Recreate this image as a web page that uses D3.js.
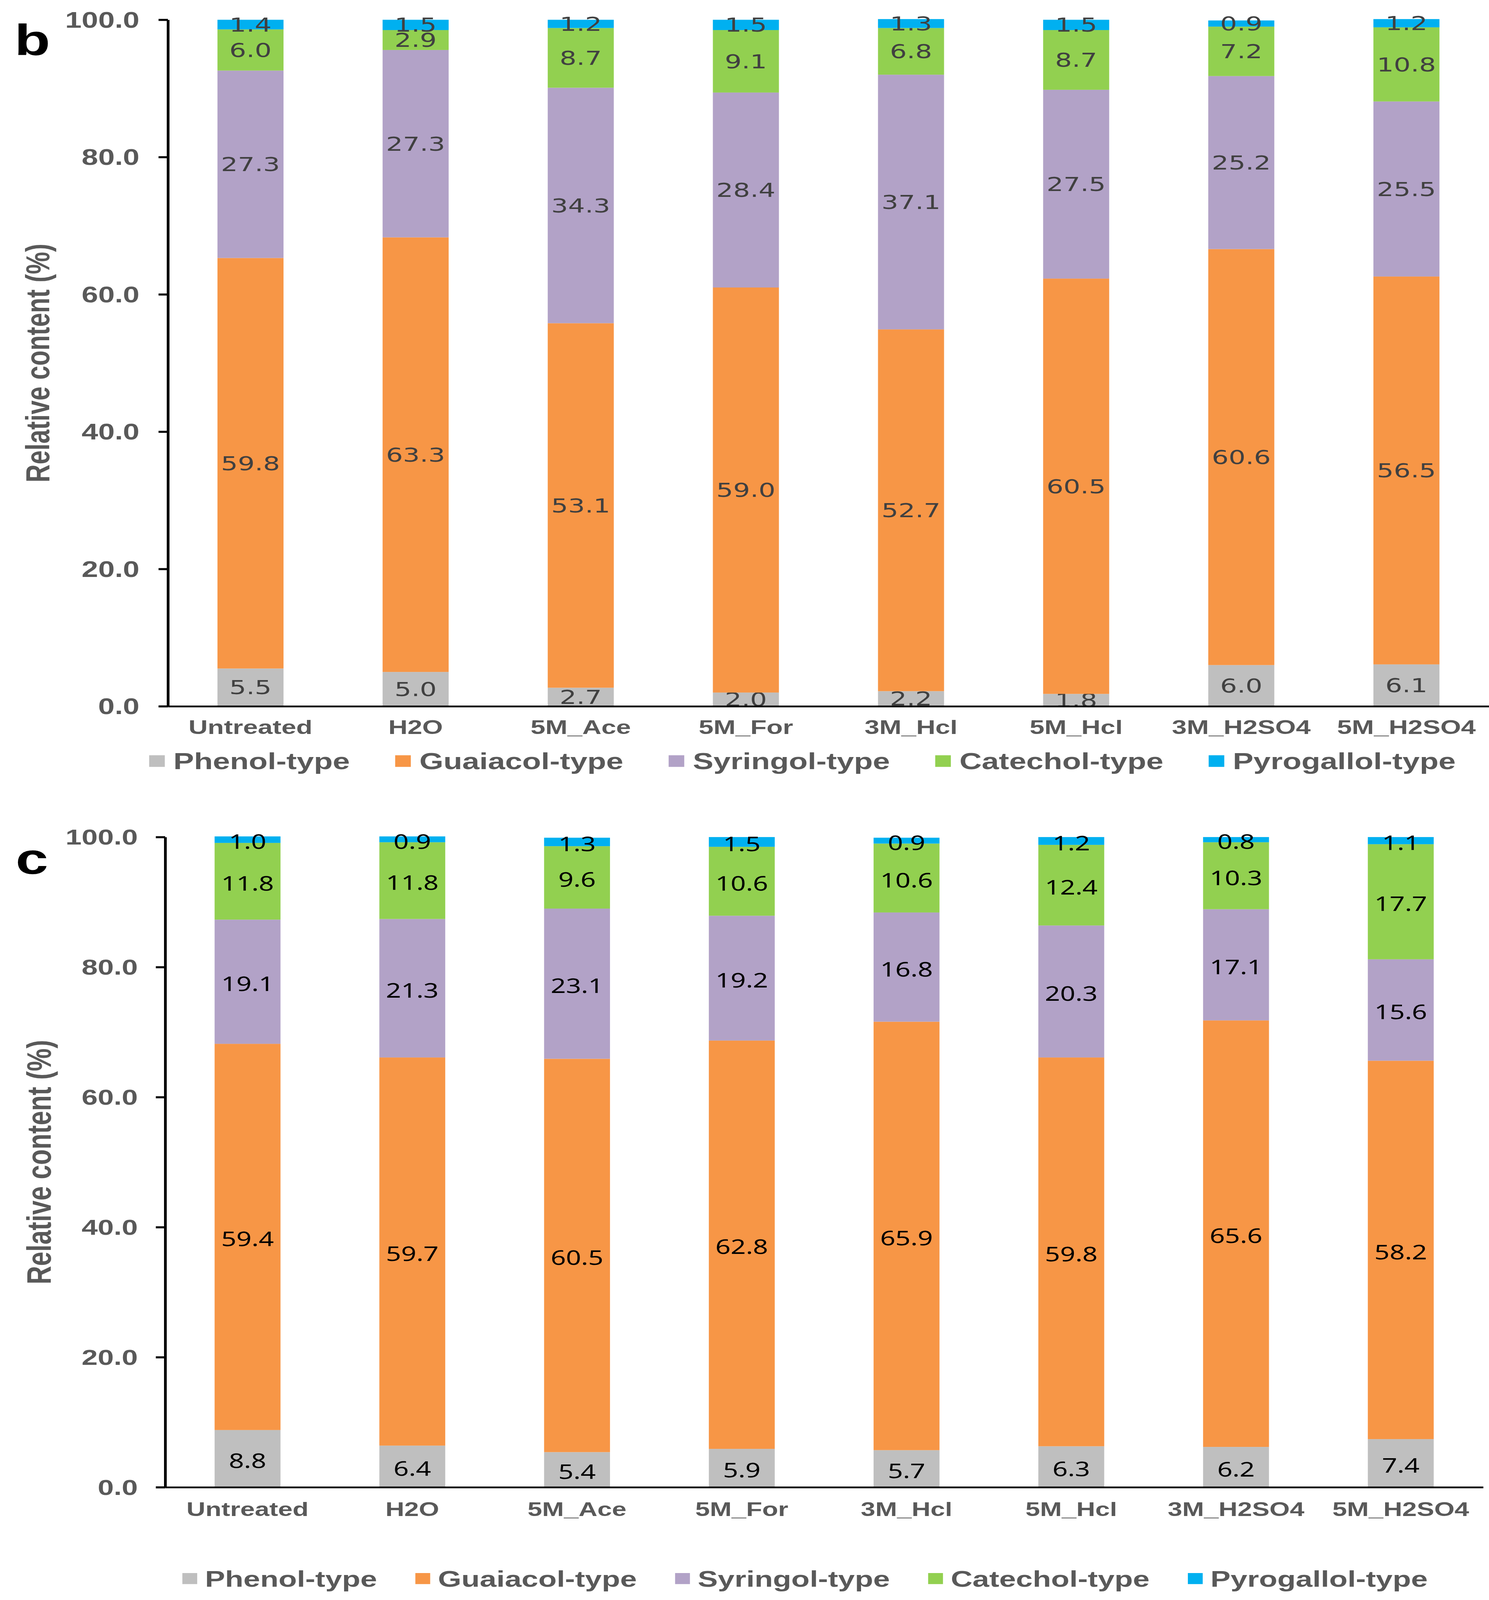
<!DOCTYPE html>
<html lang="en">
<head>
<meta charset="utf-8">
<title>Relative content of phenolic units</title>
<script src="https://cdnjs.cloudflare.com/ajax/libs/d3/7.8.5/d3.min.js"></script>
<style>
  html, body { margin: 0; padding: 0; background: #ffffff; overflow: hidden; }
  /* the drawing is laid out on a 3813 x 5505 grid and stretched to whatever the window is */
  #canvas { display: block; width: 100vw; height: 100vh; }
</style>
</head>
<body>
<svg id="canvas" viewBox="0 0 3813 5505" preserveAspectRatio="none"></svg>
<script>
// categories on the x axis
const categories = ['Untreated', 'H2O', '5M_Ace', '5M_For', '3M_Hcl', '5M_Hcl', '3M_H2SO4', '5M_H2SO4'];
const seriesNames = ['Phenol-type', 'Guaiacol-type', 'Syringol-type', 'Catechol-type', 'Pyrogallol-type'];
const seriesColors = ['#bfbfbf', '#f79646', '#b2a2c7', '#92d050', '#00b0f0'];
const yTicks = [0, 20, 40, 60, 80, 100];

// panel b
const phenolB = [5.5, 5.0, 2.7, 2.0, 2.2, 1.8, 6.0, 6.1];
const guaiacolB = [59.8, 63.3, 53.1, 59.0, 52.7, 60.5, 60.6, 56.5];
const syringolB = [27.3, 27.3, 34.3, 28.4, 37.1, 27.5, 25.2, 25.5];
const catecholB = [6.0, 2.9, 8.7, 9.1, 6.8, 8.7, 7.2, 10.8];
const pyrogallolB = [1.4, 1.5, 1.2, 1.5, 1.3, 1.5, 0.9, 1.2];

// panel c
const phenolC = [8.8, 6.4, 5.4, 5.9, 5.7, 6.3, 6.2, 7.4];
const guaiacolC = [59.4, 59.7, 60.5, 62.8, 65.9, 59.8, 65.6, 58.2];
const syringolC = [19.1, 21.3, 23.1, 19.2, 16.8, 20.3, 17.1, 15.6];
const catecholC = [11.8, 11.8, 9.6, 10.6, 10.6, 12.4, 10.3, 17.7];
const pyrogallolC = [1.0, 0.9, 1.3, 1.5, 0.9, 1.2, 0.8, 1.1];

const svg = d3.select('#canvas');
svg.append('rect').attr('width', 3813).attr('height', 5505).attr('fill', '#ffffff');

const grey = '#595959';
const fmt = d3.format('.1f');

function drawPanel(p, series) {
    // one row per category, one key per series
    let rows = categories.map(function(c, i) {
        let r = { cat: c };
        seriesNames.forEach(function(s, k) { r[s] = series[k][i]; });
        return r;
    });
    let stacked = d3.stack().keys(seriesNames)(rows);

    let x = d3.scaleBand()
        .domain(categories)
        .range([p.left, p.right])
        .paddingInner(0.6)
        .paddingOuter(0.3);
    let y = d3.scaleLinear()
        .domain([0, 100])
        .range([p.bottom, p.top]);

    let g = svg.append('g');

    // bars
    let layer = g.selectAll('g.layer')
        .data(stacked)
        .join('g')
        .attr('class', 'layer')
        .attr('fill', function(d, i) { return seriesColors[i]; });

    layer.selectAll('rect')
        .data(function(d) { return d; })
        .join('rect')
        .attr('x', function(d) { return x(d.data.cat); })
        .attr('y', function(d) { return y(d[1]); })
        .attr('width', x.bandwidth())
        .attr('height', function(d) { return y(d[0]) - y(d[1]); });

    // value labels in the middle of each segment
    layer.selectAll('text')
        .data(function(d) { return d; })
        .join('text')
        .attr('x', function(d) { return x(d.data.cat) + x.bandwidth() / 2; })
        .attr('y', function(d) { return y((d[0] + d[1]) / 2) + p.labelShift; })
        .attr('text-anchor', 'middle')
        .attr('dominant-baseline', 'central')
        .attr('fill', p.labelColor)
        .style('font-family', p.labelFont)
        .style('font-size', p.labelSize + 'px')
        .text(function(d) { return fmt(d[1] - d[0]); });

    // y axis
    let yAxis = g.append('g')
        .attr('transform', 'translate(' + p.left + ',0)')
        .call(d3.axisLeft(y).tickValues(yTicks).tickFormat(fmt)
            .tickSize(24).tickSizeOuter(0).tickPadding(p.tickPad));
    yAxis.select('.domain').attr('stroke', '#000').attr('stroke-width', 7);
    yAxis.selectAll('.tick line').attr('stroke', '#000').attr('stroke-width', 7);
    yAxis.selectAll('.tick text')
        .attr('fill', grey)
        .attr('dy', null)
        .attr('dominant-baseline', 'central')
        .style('font-family', '"Liberation Sans", Arial, sans-serif')
        .style('font-weight', 'bold')
        .style('font-size', p.tickSize + 'px');

    // x axis
    let xAxis = g.append('g')
        .attr('transform', 'translate(0,' + p.bottom + ')')
        .call(d3.axisBottom(x).tickSize(0).tickSizeOuter(0));
    xAxis.select('.domain').attr('stroke', '#000').attr('stroke-width', 6);
    xAxis.selectAll('.tick text')
        .attr('fill', grey)
        .attr('dy', null)
        .attr('y', p.xLabelY)
        .style('font-family', '"Liberation Sans", Arial, sans-serif')
        .style('font-weight', 'bold')
        .style('font-size', p.xLabelSize + 'px');

    // y title
    g.append('text')
        .attr('transform', 'translate(' + p.titleX + ',' + (p.top + p.bottom) / 2 + ') rotate(-90)')
        .attr('text-anchor', 'middle')
        .attr('fill', grey)
        .style('font-family', '"Liberation Sans", Arial, sans-serif')
        .style('font-weight', 'bold')
        .style('font-size', p.titleSize + 'px')
        .text('Relative content (%)');

    // panel letter
    g.append('text')
        .attr('x', p.letterX)
        .attr('y', p.letterY)
        .attr('fill', '#000')
        .style('font-family', '"Liberation Sans", Arial, sans-serif')
        .style('font-weight', 'bold')
        .style('font-size', '150px')
        .text(p.letter);

    // legend, laid out left to right
    let lx = p.legendX;
    seriesNames.forEach(function(s, i) {
        g.append('rect')
            .attr('x', lx)
            .attr('y', p.legendY - 0.36 * p.legendSize - p.legendBox / 2)
            .attr('width', p.legendBox)
            .attr('height', p.legendBox)
            .attr('fill', seriesColors[i]);
        let t = g.append('text')
            .attr('x', lx + p.legendTextOff)
            .attr('y', p.legendY)
            .attr('fill', grey)
            .style('font-family', '"Liberation Sans", Arial, sans-serif')
            .style('font-weight', 'bold')
            .style('font-size', p.legendSize + 'px')
            .text(s);
        lx += p.legendTextOff + t.node().getComputedTextLength() + p.legendGap;
    });
}

drawPanel({
    letter: 'b', letterX: 37, letterY: 189,
    left: 430, right: 3813, top: 68, bottom: 2430,
    tickPad: 49, tickSize: 76, xLabelY: 96, xLabelSize: 68, titleX: 126, titleSize: 86,
    labelFont: '"DejaVu Sans", sans-serif', labelSize: 68, labelColor: '#404040', labelShift: 0,
    legendX: 382, legendY: 2647, legendSize: 79, legendBox: 40, legendTextOff: 62, legendGap: 116
}, [phenolB, guaiacolB, syringolB, catecholB, pyrogallolB]);

drawPanel({
    letter: 'c', letterX: 40, letterY: 3007,
    left: 423, right: 3798, top: 2880, bottom: 5117,
    tickPad: 46, tickSize: 74, xLabelY: 99, xLabelSize: 67, titleX: 130, titleSize: 88,
    labelFont: '"Noto Sans", sans-serif', labelSize: 68, labelColor: '#000000', labelShift: 6,
    legendX: 467, legendY: 5459, legendSize: 77, legendBox: 38, legendTextOff: 58, legendGap: 98
}, [phenolC, guaiacolC, syringolC, catecholC, pyrogallolC]);
</script>
</body>
</html>
